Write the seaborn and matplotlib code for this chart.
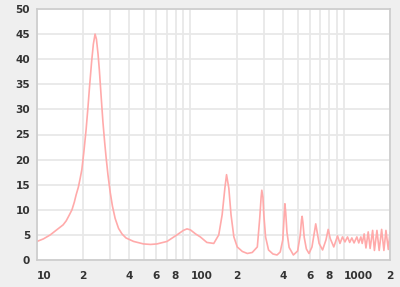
import matplotlib
matplotlib.use("Agg")
import matplotlib.pyplot as plt
import seaborn as sns
import pandas as pd

# --- data ---
freq = [10, 11, 12.2, 13.3, 14.8, 15.5, 16.2, 16.9, 17.5, 18, 18.6, 19.1, 19.6, 20.2,
        20.9, 21.5, 22, 22.7, 23.3, 23.9, 24.4, 25, 25.5, 26.2, 26.9, 27.6, 28.2, 29,
        30, 31, 32.3, 34, 35.8, 38, 42.6, 49.5, 55, 60.5,
        70.4, 81.7, 90, 95, 100, 108, 116, 128, 142, 153, 161, 168, 172, 178, 184, 192,
        202, 218, 235, 253, 273, 283, 289, 292, 297, 301, 309, 323, 345, 367, 385, 400,
        408, 413, 418, 426, 440, 469, 500, 520, 530, 535, 541, 552, 570, 593, 620, 645,
        656, 668, 690, 727, 765, 791, 815, 860, 910, 944, 980, 1017, 1057, 1092, 1128,
        1166, 1216, 1251, 1291, 1318, 1357, 1394, 1442, 1484, 1541, 1583, 1644, 1700,
        1764, 1825, 1882, 1950, 2000]
value = [3.7, 4.2, 5.0, 5.9, 7.0, 7.8, 8.9, 10, 11.5, 13, 14.5, 16.2, 18, 21.5,
         26, 30.5, 34.5, 39.5, 43, 45, 44, 41, 37.8, 32.5, 27.5, 23.5, 20.5, 17,
         13.5, 10.8, 8.3, 6.3, 5.2, 4.4, 3.7, 3.2, 3.1, 3.2,
         3.7, 5.0, 5.9, 6.2, 6.0, 5.2, 4.6, 3.5, 3.3, 5, 9, 14.5, 17, 14.3, 9, 4.6,
         2.6, 1.7, 1.3, 1.5, 2.6, 8.3, 12.5, 13.9, 12.5, 9, 4.6, 2.0, 1.2, 1.0, 1.6, 4,
         8.5, 11.2, 9.5, 5.5, 2.5, 1.0, 1.8, 5, 8, 8.7, 7.5, 4.5, 2.2, 1.3, 2.6, 5.8,
         7.2, 5.8, 3.3, 2.0, 4, 6.1, 4.3, 2.6, 4.8, 3.3, 4.6, 3.6, 4.6, 3.5, 4.4,
         3.4, 4.6, 3.4, 4.6, 3.3, 5.2, 2.4, 5.6, 2.3, 5.9, 1.9, 5.9, 1.9,
         6.1, 1.9, 5.9, 2.1, 5.5]

x_ticks = [10, 20, 30, 40, 50, 60, 70, 80, 90, 100, 200, 300, 400, 500, 600, 700,
           800, 900, 1000, 2000]
x_tick_labels = ["10", "2", "", "4", "", "6", "", "8", "", "100", "2", "", "4", "",
                 "6", "", "8", "", "1000", "2"]
y_ticks = [0, 5, 10, 15, 20, 25, 30, 35, 40, 45, 50]
y_tick_labels = ["0", "5", "10", "15", "20", "25", "30", "35", "40", "45", "50"]

df = pd.DataFrame({"freq": freq, "value": value})

sns.set_style("white")
plt.rcParams["font.family"] = ["DejaVu Sans"]

fig = plt.figure(figsize=(4.0, 2.87), dpi=100)
fig.patch.set_facecolor("#efefef")
ax = fig.add_axes([37 / 400, 1 - 260 / 287, 353 / 400, 251 / 287])
ax.set_facecolor("white")

sns.lineplot(data=df, x="freq", y="value", ax=ax, color="#ffaaaa",
             linewidth=1.2, sort=False, estimator=None)

ax.set_xscale("log")
ax.set_xlim(10, 2000)
ax.set_ylim(0, 50)
ax.set_xticks(x_ticks)
ax.set_xticklabels(x_tick_labels)
ax.minorticks_off()
ax.set_yticks(y_ticks)
ax.set_yticklabels(y_tick_labels)
ax.set_xlabel("")
ax.set_ylabel("")

ax.grid(True, color="#e8e8e8", linewidth=1.3)
ax.set_axisbelow(True)

ax.tick_params(axis="both", length=0, labelsize=7.6, labelcolor="#333333")
ax.tick_params(axis="x", pad=8)
ax.tick_params(axis="y", pad=5)
for lab in ax.get_xticklabels() + ax.get_yticklabels():
    lab.set_fontweight("bold")
for lab in ax.get_xticklabels():
    if lab.get_text() in ("10", "100", "1000"):
        lab.set_horizontalalignment("left")

for side in ["left", "bottom", "right", "top"]:
    ax.spines[side].set_visible(True)
    ax.spines[side].set_color("#cccccc")
    ax.spines[side].set_linewidth(1.2)

fig.savefig("out.png", dpi=100, facecolor=fig.get_facecolor())
